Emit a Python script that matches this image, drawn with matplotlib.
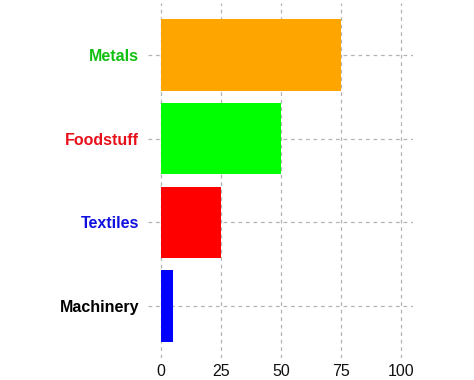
import matplotlib
matplotlib.use('Agg')
import matplotlib.pyplot as plt

categories = ['Machinery', 'Textiles', 'Foodstuff', 'Metals']
values = [5, 25, 50, 75]
bar_colors = ['#0000FF', '#FF0000', '#00FF00', '#FFA500']
label_colors = ['#000000', '#1010E0', '#E8101A', '#10C010']
xticks = [0, 25, 50, 75, 100]

plt.rcParams['font.family'] = ['Liberation Sans', 'DejaVu Sans']

fig = plt.figure(figsize=(4.74, 3.8), dpi=100)
ax = fig.add_axes([0.3122, 0.058, 0.5598, 0.934])

ypos = list(range(1, len(categories) + 1))
ax.barh(ypos, values, height=0.85, color=bar_colors, zorder=2)

ax.set_xlim(-5.25, 105)
ax.set_ylim(0.38, 4.62)
ax.set_xticks(xticks)
ax.set_xticklabels([str(t) for t in xticks], fontsize=11.5, color='#111111')
ax.set_yticks(ypos)
ax.set_yticklabels(categories, fontsize=11.5, fontweight='bold')
for lbl, c in zip(ax.get_yticklabels(), label_colors):
    lbl.set_color(c)

ax.tick_params(axis='both', length=0)
ax.tick_params(axis='y', pad=6.5)
ax.tick_params(axis='x', pad=4.5)

ax.grid(True, color='#b4b4b4', linestyle=(0, (3, 3)), linewidth=0.9, zorder=0)
ax.set_axisbelow(True)
for s in ax.spines.values():
    s.set_visible(False)

plt.savefig('out.png', dpi=100)
plt.close()
